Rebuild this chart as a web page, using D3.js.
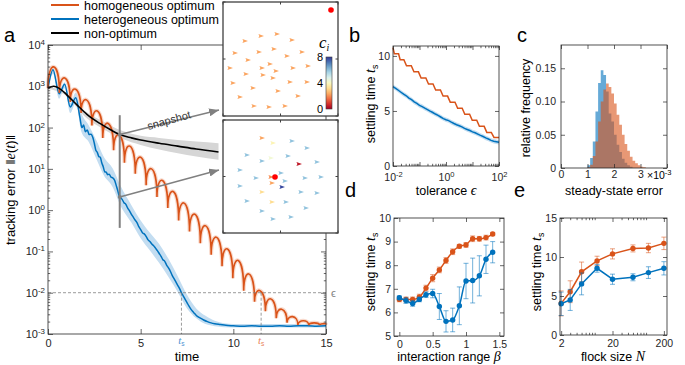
<!DOCTYPE html>
<html>
<head>
<meta charset="utf-8">
<script src="https://cdn.jsdelivr.net/npm/d3@7"></script>
<style>
  body { margin: 0; background: #fff; }
  svg { font-family: "Liberation Sans", Arial, Helvetica, sans-serif; color: #262626; }
</style>
</head>
<body>
<svg id="fig" width="685" height="365"></svg>
<script>
// ---------- DATA ----------

// a: tracking error (log10 values)
// homogeneous optimum: cusps of the oscillation, and tops of the arcs between cusps
const homCuspT = [0, 0.615, 1.2, 1.785, 2.37, 2.955, 3.54, 4.125, 4.71, 5.295, 5.88, 6.465, 7.05, 7.635, 8.22, 8.805, 9.39, 9.975, 10.56, 11.145, 11.73, 12.315, 12.9, 13.485, 14.07, 14.655, 15];
const homCuspV = [2.95, 2.84, 2.62, 2.35, 2.05, 1.75, 1.45, 1.15, 0.88, 0.6, 0.32, 0.05, -0.25, -0.52, -0.8, -1.08, -1.36, -1.65, -1.95, -2.22, -2.45, -2.62, -2.73, -2.78, -2.79, -2.79, -2.77];
const homTopV  = [3.47, 3.2, 2.93, 2.67, 2.4, 2.1, 1.82, 1.55, 1.28, 1.0, 0.72, 0.45, 0.17, -0.1, -0.38, -0.66, -0.94, -1.22, -1.55, -1.95, -2.15, -2.4, -2.58, -2.68, -2.73, -2.75];

// heterogeneous optimum [time, log10 error]
const hetLine = [[0,2.96],[0.27,3.4],[0.6,2.82],[0.9,3.05],[1.2,2.5],[1.5,2.72],[1.72,2.25],[1.83,2.0],[1.92,2.06],[2.02,1.9],[2.12,1.94],[2.22,1.83],[2.32,1.84],[2.42,1.76],[2.5,1.62],[2.58,1.45],[2.66,1.4],[2.74,1.3],[2.82,1.28],[2.9,1.15],[2.98,1.05],[3.06,0.93],[3.14,0.92],[3.22,0.86],[3.3,0.87],[3.4,0.8],[3.5,0.78],[3.6,0.72],[3.68,0.6],[3.76,0.48],[3.84,0.34],[3.92,0.3],[4.0,0.26],[4.1,0.18],[4.2,0.14],[4.3,0.05],[4.4,-0.02],[4.5,-0.1],[4.6,-0.17],[4.7,-0.24],[4.8,-0.3],[4.9,-0.4],[5.0,-0.47],[5.1,-0.55],[5.2,-0.58],[5.3,-0.64],[5.4,-0.72],[5.5,-0.76],[5.6,-0.82],[5.7,-0.86],[5.8,-0.92],[5.9,-0.98],[6.0,-1.05],[6.1,-1.12],[6.2,-1.2],[6.3,-1.24],[6.4,-1.33],[6.5,-1.4],[6.6,-1.48],[6.7,-1.58],[6.8,-1.66],[6.9,-1.74],[7.0,-1.82],[7.1,-1.9],[7.2,-2.0],[7.3,-2.08],[7.4,-2.16],[7.5,-2.24],[7.6,-2.32],[7.7,-2.39],[7.8,-2.45],[7.9,-2.5],[8.0,-2.55],[8.2,-2.61],[8.4,-2.66],[8.6,-2.7],[8.8,-2.73],[9.0,-2.75],[9.3,-2.77],[9.6,-2.79],[10,-2.8],[10.5,-2.81],[11,-2.8],[11.5,-2.81],[12,-2.81],[12.5,-2.8],[13,-2.81],[13.5,-2.8],[14,-2.8],[14.5,-2.81],[15,-2.8]];
// [time, low, high]
const hetBand = [[0,2.92,3.0],[0.27,3.3,3.45],[0.6,2.7,2.9],[0.9,2.95,3.1],[1.2,2.35,2.6],[1.5,2.6,2.85],[1.8,1.9,2.35],[2.2,1.65,2.05],[2.6,1.25,1.7],[3.0,0.85,1.3],[3.5,0.55,1.0],[3.9,0.12,0.6],[4.5,-0.3,0.12],[5.0,-0.68,-0.25],[5.5,-0.98,-0.55],[6.0,-1.28,-0.82],[6.5,-1.62,-1.18],[7.0,-1.98,-1.6],[7.5,-2.38,-2.05],[8.0,-2.62,-2.38],[8.5,-2.76,-2.56],[9.0,-2.81,-2.68],[10,-2.84,-2.76],[15,-2.84,-2.76]];

// non-optimum
const nonLine = [[0,2.96],[0.3,3.0],[0.7,2.92],[1.0,2.8],[1.56,2.55],[2.1,2.32],[2.8,2.1],[3.4,1.94],[3.87,1.83],[4.5,1.75],[5.0,1.7],[6.0,1.62],[7.0,1.55],[8.0,1.48],[9.2,1.41]];
const nonBand = [[0,2.94,2.98],[1.0,2.76,2.84],[2.0,2.26,2.4],[3.0,1.96,2.14],[4.0,1.73,1.92],[5.0,1.58,1.8],[6.0,1.47,1.75],[7.0,1.38,1.7],[8.0,1.3,1.66],[9.2,1.22,1.62]];

const epsilon = 1e-2;
const tsHet = 7.2, tsHom = 11.5, tSnap = 3.87;
const timeTicks = [0, 5, 10, 15];
const errExps = [-3, -2, -1, 0, 1, 2, 3, 4];

// snapshots: agent positions in inset units [x, y, c_i], leader dot
const flockEarly = [[22,39],[38,34],[54,32],[69,38],[12,51],[36,50],[51,47],[79,50],[25,58],[64,54],[7,66],[39,66],[47,62],[70,66],[85,64],[23,72],[40,73],[53,69],[50,76],[10,81],[30,86],[67,80],[84,80],[17,95],[55,89],[75,94],[31,104],[46,105],[62,104]];
const earlyC = 2.3;
const leaderEarly = [108, 8];
const flockLate = [[39,18,2.3],[50,23,3.8],[69,21,6],[84,28,6],[24,35,6],[48,38,4.3],[65,36,6],[76,44,0.4],[94,42,6],[17,50,6],[39,41,6],[58,53,6],[33,58,6],[48,57,2.0],[62,61,6],[82,58,6],[98,57,6],[17,66,6],[49,63,2.3],[59,67,7.8],[39,72,3.2],[78,72,6],[94,73,6],[24,81,6],[49,82,3.2],[63,82,6],[83,88,6],[39,91,6],[68,97,6],[50,99,6]];
const leaderLate = [52, 57];
const cTicks = [0, 4, 8];

// b: settling time vs tolerance [log10 eps, t_s]
const tolHom = [[-2.0,10.75],[-1.95,10.2],[-1.79,10.2],[-1.73,9.65],[-1.59,9.65],[-1.49,9.1],[-1.31,9.1],[-1.21,8.55],[-1.04,8.55],[-0.94,8.0],[-0.76,8.0],[-0.66,7.45],[-0.49,7.45],[-0.39,6.9],[-0.21,6.9],[-0.11,6.35],[0.06,6.35],[0.16,5.8],[0.34,5.8],[0.44,5.25],[0.61,5.25],[0.71,4.7],[0.89,4.7],[0.99,4.15],[1.16,4.15],[1.26,3.6],[1.44,3.6],[1.54,3.05],[1.71,3.05],[1.81,2.6],[2.0,2.6]];
const tolHet = [[-2.0,7.2],[-1.9,7.05],[-1.8,6.88],[-1.7,6.7],[-1.6,6.52],[-1.5,6.38],[-1.4,6.17],[-1.3,6.02],[-1.2,5.82],[-1.1,5.68],[-1.0,5.5],[-0.9,5.4],[-0.8,5.25],[-0.7,5.12],[-0.6,4.98],[-0.5,4.86],[-0.4,4.72],[-0.3,4.6],[-0.2,4.45],[-0.1,4.3],[0,4.2],[0.1,4.12],[0.2,3.98],[0.3,3.86],[0.4,3.75],[0.5,3.66],[0.6,3.55],[0.7,3.42],[0.8,3.32],[0.9,3.22],[1.0,3.1],[1.1,3.02],[1.2,2.9],[1.3,2.78],[1.4,2.68],[1.5,2.55],[1.6,2.45],[1.7,2.33],[1.8,2.25],[1.9,2.2],[2.0,2.15]];
const tolBandHalf = 0.2;

// c: steady-state error histograms (x in 1e-3), bins of width 0.1
const binStart = 1.0, binWidth = 0.1;
const histHet = [0.004, 0.015, 0.04, 0.085, 0.128, 0.147, 0.14, 0.115, 0.082, 0.07, 0.05, 0.035, 0.024, 0.014, 0.008, 0.004, 0.002];
const histHom = [0.001, 0.005, 0.018, 0.04, 0.07, 0.1, 0.118, 0.127, 0.122, 0.112, 0.097, 0.08, 0.065, 0.05, 0.036, 0.026, 0.017, 0.011, 0.007, 0.004, 0.002, 0.001];

// d: settling time vs interaction range
const beta = [0, 0.1, 0.2, 0.3, 0.4, 0.5, 0.6, 0.7, 0.8, 0.9, 1.0, 1.1, 1.2, 1.3, 1.4];
const betaHom = [6.55, 6.55, 6.55, 6.65, 7.03, 7.45, 7.8, 8.2, 8.57, 8.8, 8.86, 9.12, 9.12, 9.17, 9.32];
const betaHomErr = [0.1, 0.1, 0.1, 0.12, 0.12, 0.15, 0.12, 0.12, 0.12, 0.08, 0.1, 0.12, 0.1, 0.1, 0.07];
const betaHet = [6.62, 6.5, 6.38, 6.55, 6.75, 6.8, 6.25, 5.62, 5.68, 6.28, 7.33, 7.35, 7.55, 8.25, 8.55];
const betaHetErr = [0.08, 0.12, 0.12, 0.1, 0.12, 0.18, 0.55, 0.45, 0.5, 0.8, 0.75, 0.95, 0.85, 0.6, 0.45];

// e: settling time vs flock size
const flockN = [2, 3, 5, 10, 20, 50, 100, 200];
const sizeHom = [4.05, 5.55, 8.1, 9.5, 10.4, 11.1, 11.15, 11.75];
const sizeHomErr = [1.6, 1.4, 1.25, 0.6, 0.65, 0.45, 0.6, 0.8];
const sizeHet = [4.0, 4.5, 6.55, 8.55, 7.15, 7.4, 8.0, 8.55];
const sizeHetErr = [1.5, 1.35, 1.4, 0.5, 0.65, 0.45, 0.75, 0.85];

// ---------- SETUP ----------
const svg = d3.select('#fig');
const RED = '#d95319', BLUE = '#0072bd', INK = '#262626', GREY = '#808080';
const FS = 10.5;

const defs = svg.append('defs');
defs.append('marker').attr('id', 'arr').attr('viewBox', '0 0 10 8')
    .attr('refX', 10).attr('refY', 4).attr('markerWidth', 10).attr('markerHeight', 8)
    .attr('markerUnits', 'userSpaceOnUse').attr('orient', 'auto')
  .append('path').attr('d', 'M0,0L10,4L0,8Z').attr('fill', GREY);

// superscript label "10^e"
const sup = (sel, base, exp) => {
  sel.text(base).append('tspan').attr('dy', '-0.5em').attr('font-size', '0.72em').text(exp);
};
const minorLog = (lo, hi) => d3.range(lo, hi).flatMap(e => d3.range(2, 10).map(m => m * Math.pow(10, e)));

// MATLAB-like box axes with inward ticks
function axisBox(g, x, y, o) {
  const [xl, xr] = x.range(), [yb, yt] = y.range();
  const tl = o.tl || 4, fs = o.fs || FS;
  const tidy = s => {
    s.select('.domain').remove();
    s.attr('font-family', null).attr('font-size', fs);
    s.selectAll('line').attr('stroke', INK).attr('stroke-width', 0.7);
  };
  const mk = (axis, tr, vals, size, fmt, pad) => g.append('g').attr('transform', tr)
      .call(axis.tickValues(vals).tickSize(-size).tickPadding(pad).tickFormat(fmt)).call(tidy);
  const none = () => '';
  const bx = mk(d3.axisBottom(x), `translate(0,${yb})`, o.xt, tl, o.xf || (d => d), o.xpad || 4);
  mk(d3.axisTop(x), `translate(0,${yt})`, o.xt, tl, none, 0);
  const ly = mk(d3.axisLeft(y), `translate(${xl},0)`, o.yt, tl, o.yf || (d => d), o.ypad || 3);
  mk(d3.axisRight(y), `translate(${xr},0)`, o.yt, tl, none, 0);
  if (o.xm) {
    mk(d3.axisBottom(x), `translate(0,${yb})`, o.xm, 2.2, none, 0);
    mk(d3.axisTop(x), `translate(0,${yt})`, o.xm, 2.2, none, 0);
  }
  if (o.ym) {
    mk(d3.axisLeft(y), `translate(${xl},0)`, o.ym, 2.2, none, 0);
    mk(d3.axisRight(y), `translate(${xr},0)`, o.ym, 2.2, none, 0);
  }
  g.append('rect').attr('x', xl).attr('y', yt).attr('width', xr - xl).attr('height', yb - yt)
    .attr('fill', 'none').attr('stroke', INK).attr('stroke-width', 0.8);
  return { bx, ly };
}

// "settling time t_s" style label
function tsText(sel, pre) {
  sel.append('tspan').text(pre);
  sel.append('tspan').attr('font-family', '"Liberation Serif", serif').attr('font-style', 'italic')
     .attr('font-size', '1.15em').text('t');
  sel.append('tspan').attr('dy', '0.3em').attr('font-size', '0.7em').text('s');
}
const italic = (sel, s) => sel.append('tspan').attr('font-family', '"Liberation Serif", serif')
     .attr('font-style', 'italic').attr('font-size', '1.12em').text(s);

const panelLetter = (x, y, s) => svg.append('text').attr('x', x).attr('y', y)
     .attr('font-size', 20).attr('fill', '#000').text(s);

// ---------- PANEL A ----------
const xa = d3.scaleLinear().domain([0, 15]).range([48, 326]);
const ya = d3.scaleLog().domain([1e-3, 1e4]).range([334, 45]);
const P = v => ya(Math.pow(10, v));
const ga = svg.append('g');

const band = (data) => d3.area().x(d => xa(d[0])).y0(d => P(d[1])).y1(d => P(d[2]))
                           .curve(d3.curveMonotoneX)(data);
const line = (data) => d3.line().x(d => xa(d[0])).y(d => P(d[1])).curve(d3.curveMonotoneX)(data);

ga.append('path').attr('d', band(nonBand)).attr('fill', '#d6d6d6');
ga.append('path').attr('d', band(hetBand)).attr('fill', '#c3ddf1');

// homogeneous: arcs between cusps
const rp = d3.path();
rp.moveTo(xa(homCuspT[0]), P(homCuspV[0]));
homTopV.forEach((top, i) => {
  const X0 = xa(homCuspT[i]), Y0 = P(homCuspV[i]);
  const X1 = xa(homCuspT[i + 1]), Y1 = P(homCuspV[i + 1]);
  const cy = (8 * P(top) - Y0 - Y1) / 6;
  rp.bezierCurveTo(X0, cy, X1, cy, X1, Y1);
});
ga.append('path').attr('d', rp.toString()).attr('fill', 'none')
  .attr('stroke', '#f3c2ac').attr('stroke-width', 4).attr('opacity', 0.6);
ga.append('path').attr('d', line(hetLine)).attr('fill', 'none').attr('stroke', BLUE).attr('stroke-width', 1.5);
ga.append('path').attr('d', rp.toString()).attr('fill', 'none').attr('stroke', RED).attr('stroke-width', 1.6);
ga.append('path').attr('d', line(nonLine)).attr('fill', 'none').attr('stroke', '#000').attr('stroke-width', 1.6);

// tolerance and settling times
const dash = (x1, y1, x2, y2) => ga.append('line').attr('x1', x1).attr('y1', y1).attr('x2', x2).attr('y2', y2)
   .attr('stroke', GREY).attr('stroke-width', 0.8).attr('stroke-dasharray', '3,2');
dash(xa(0), ya(epsilon), xa(15), ya(epsilon));
dash(xa(tsHet), ya(epsilon), xa(tsHet), ya(1e-3));
dash(xa(tsHom), ya(epsilon), xa(tsHom), ya(1e-3));
ga.append('text').attr('x', xa(15) + 5).attr('y', ya(epsilon) + 4).attr('font-size', 11).attr('fill', GREY).text('ϵ');
[[tsHet, '#4f93d2'], [tsHom, '#e8825a']].forEach(([t, c]) => {
  const tx = ga.append('text').attr('x', xa(t)).attr('y', 344).attr('text-anchor', 'middle')
     .attr('font-size', 9.5).attr('fill', c);
  tsText(tx, '');
});

const axA = axisBox(ga, xa, ya, {
  xt: timeTicks, yt: errExps.map(e => Math.pow(10, e)), yf: () => '',
  ym: minorLog(-3, 4), fs: 11, xpad: 5, ypad: 3, tl: 5
});
axA.ly.selectAll('.tick text').each(function (d) { d3.select(this).call(sup, '10', Math.round(Math.log10(d))); });

ga.append('text').attr('x', (xa(0) + xa(15)) / 2).attr('y', 361).attr('text-anchor', 'middle')
  .attr('font-size', 13).text('time');
const yla = ga.append('text').attr('transform', 'translate(15,190) rotate(-90)')
  .attr('text-anchor', 'middle').attr('font-size', 13);
yla.append('tspan').text('tracking error  ‖');
italic(yla, 'e');
yla.append('tspan').text('(');
italic(yla, 't');
yla.append('tspan').text(')‖');

// snapshot marker and arrows
const xs = xa(tSnap);
ga.append('line').attr('x1', xs).attr('x2', xs).attr('y1', P(2.3)).attr('y2', P(-0.43))
  .attr('stroke', GREY).attr('stroke-width', 2);
const arrows = [[P(1.83), 219, 110], [P(0.32), 219, 170]];
arrows.forEach(([y0, x1, y1]) => {
  ga.append('line').attr('x1', xs).attr('y1', y0).attr('x2', x1).attr('y2', y1)
    .attr('stroke', GREY).attr('stroke-width', 1.5).attr('marker-end', 'url(#arr)');
  ga.append('circle').attr('cx', xs).attr('cy', y0).attr('r', 2).attr('fill', GREY);
});
ga.append('text').attr('transform', 'translate(170,124) rotate(-15.5)').attr('text-anchor', 'middle')
  .attr('font-size', 11).attr('fill', '#333').text('snapshot');

// legend
const legend = [['homogeneous optimum', RED], ['heterogeneous optimum', BLUE], ['non-optimum', '#000']];
legend.forEach(([name, c], i) => {
  const y = 5 + i * 14;
  svg.append('line').attr('x1', 51).attr('x2', 79).attr('y1', y).attr('y2', y).attr('stroke', c).attr('stroke-width', 2);
  svg.append('text').attr('x', 84).attr('y', y + 4.5).attr('font-size', 12.5).text(name);
});
panelLetter(4, 42, 'a');

// insets
const cColor = c => d3.interpolateRdYlBu(c / 8);
const agent = 'M-2.6,-1.9L3,0L-2.6,1.9L-1.6,0Z';
function inset(y0, h, pts, leader) {
  const g = svg.append('g');
  const ix = d3.scaleLinear().domain([0, 115]).range([223, 338]);
  const iy = d3.scaleLinear().domain([0, h]).range([y0, y0 + h]);
  g.append('rect').attr('x', 223).attr('y', y0).attr('width', 115).attr('height', h)
    .attr('fill', '#fff').attr('stroke', '#404040').attr('stroke-width', 1.3);
  [0, 57.5, 115].forEach(t => {
    g.append('line').attr('x1', ix(t)).attr('x2', ix(t)).attr('y1', y0).attr('y2', y0 + 2.5).attr('stroke', '#404040');
    g.append('line').attr('x1', ix(t)).attr('x2', ix(t)).attr('y1', y0 + h).attr('y2', y0 + h - 2.5).attr('stroke', '#404040');
  });
  [0, h / 2, h].forEach(t => {
    g.append('line').attr('x1', 223).attr('x2', 225.5).attr('y1', iy(t)).attr('y2', iy(t)).attr('stroke', '#404040');
    g.append('line').attr('x1', 338).attr('x2', 335.5).attr('y1', iy(t)).attr('y2', iy(t)).attr('stroke', '#404040');
  });
  g.selectAll('path.agent').data(pts).enter().append('path').attr('class', 'agent')
    .attr('d', agent).attr('transform', d => `translate(${ix(d[0])},${iy(d[1])})`)
    .attr('fill', d => cColor(d[2] === undefined ? earlyC : d[2]));
  g.append('circle').attr('cx', ix(leader[0])).attr('cy', iy(leader[1])).attr('r', 2.8).attr('fill', '#ff0000');
  return g;
}
const in1 = inset(2, 114, flockEarly, leaderEarly);
inset(120, 113, flockLate, leaderLate);

// colour bar
const cy = d3.scaleLinear().domain([0, 8]).range([109, 57]);
const grad = defs.append('linearGradient').attr('id', 'cbar').attr('x1', 0).attr('x2', 0).attr('y1', 1).attr('y2', 0);
d3.range(0, 1.0001, 0.1).forEach(t => grad.append('stop').attr('offset', t).attr('stop-color', d3.interpolateRdYlBu(t)));
in1.append('rect').attr('x', 326).attr('y', cy(8)).attr('width', 6).attr('height', cy(0) - cy(8))
  .attr('fill', 'url(#cbar)').attr('stroke', '#404040').attr('stroke-width', 0.6);
cTicks.forEach(c => in1.append('text').attr('x', 323).attr('y', cy(c) + 4).attr('text-anchor', 'end')
  .attr('font-size', 11).text(c));
const cl = in1.append('text').attr('x', 319).attr('y', 48).attr('font-size', 15);
italic(cl, 'c');
cl.append('tspan').attr('dy', '0.3em').attr('font-size', '0.65em').attr('font-family', '"Liberation Serif", serif')
  .attr('font-style', 'italic').text('i');

// ---------- PANEL B ----------
const xb = d3.scaleLog().domain([1e-2, 1e2]).range([393, 499]);
const yb = d3.scaleLinear().domain([0, 10.9]).range([166, 46]);
const gb = svg.append('g');
gb.append('path').attr('fill', '#c3ddf1')
  .attr('d', d3.area().x(d => xb(Math.pow(10, d[0]))).y0(d => yb(d[1] - tolBandHalf)).y1(d => yb(d[1] + tolBandHalf))(tolHet));
const lb = d3.line().x(d => xb(Math.pow(10, d[0]))).y(d => yb(d[1]));
gb.append('path').attr('d', lb(tolHet)).attr('fill', 'none').attr('stroke', BLUE).attr('stroke-width', 1.5);
gb.append('path').attr('d', lb(tolHom)).attr('fill', 'none').attr('stroke', RED).attr('stroke-width', 1.5);
const axB = axisBox(gb, xb, yb, {
  xt: [1e-2, 1e-1, 1, 10, 100], xf: () => '', xm: minorLog(-2, 2), xpad: 7.5,
  yt: [0, 5, 10]
});
axB.bx.selectAll('.tick text').each(function (d) {
  const e = Math.round(Math.log10(d));
  if (e % 2 === 0) d3.select(this).call(sup, '10', e);
});
const ylb = gb.append('text').attr('transform', 'translate(375,104) rotate(-90)').attr('text-anchor', 'middle').attr('font-size', 12.5);
tsText(ylb, 'settling time  ');
const xlb = gb.append('text').attr('x', 446).attr('y', 195).attr('text-anchor', 'middle').attr('font-size', 12.5);
xlb.append('tspan').text('tolerance ');
italic(xlb, 'ϵ');
panelLetter(349, 42, 'b');

// ---------- PANEL C ----------
const xc = d3.scaleLinear().domain([0, 4]).range([561, 667]);
const yc = d3.scaleLinear().domain([0, 0.185]).range([168, 45]);
const gc = svg.append('g');
const histPts = h => {
  const pts = h.map((v, i) => [binStart + i * binWidth, v]);
  pts.push([binStart + h.length * binWidth, h[h.length - 1]]);
  return pts;
};
const hArea = d3.area().x(d => xc(d[0])).y0(yc(0)).y1(d => yc(d[1])).curve(d3.curveStepAfter);
gc.append('path').attr('d', hArea(histPts(histHet))).attr('fill', BLUE).attr('fill-opacity', 0.6);
gc.append('path').attr('d', hArea(histPts(histHom))).attr('fill', RED).attr('fill-opacity', 0.6);
axisBox(gc, xc, yc, {
  xt: [0, 1, 2, 3, 4], xf: d => d === 4 ? '' : d, xpad: 3,
  yt: [0, 0.05, 0.1, 0.15], yf: d => d === 0 ? '0' : d3.format('.2f')(d), ypad: 5
});
gc.append('text').attr('x', 647).attr('y', 179).attr('font-size', FS).call(sup, '×10', '-3');
gc.append('text').attr('transform', 'translate(530,108) rotate(-90)').attr('text-anchor', 'middle')
  .attr('font-size', 12.5).text('relative frequency');
gc.append('text').attr('x', 614).attr('y', 195).attr('text-anchor', 'middle').attr('font-size', 12.5).text('steady-state error');
panelLetter(517, 42, 'c');

// ---------- error-bar series helper ----------
function series(g, x, y, xs, ys, es, color, curve) {
  const pts = xs.map((v, i) => [x(v), y(ys[i]), y(ys[i] - es[i]), y(ys[i] + es[i])]);
  const eb = g.append('g').attr('stroke', color).attr('stroke-opacity', 0.55).attr('stroke-width', 1);
  pts.forEach(([px, py, lo, hi]) => {
    eb.append('line').attr('x1', px).attr('x2', px).attr('y1', lo).attr('y2', hi);
    eb.append('line').attr('x1', px - 2.5).attr('x2', px + 2.5).attr('y1', lo).attr('y2', lo);
    eb.append('line').attr('x1', px - 2.5).attr('x2', px + 2.5).attr('y1', hi).attr('y2', hi);
  });
  g.append('path').attr('d', d3.line().x(d => d[0]).y(d => d[1]).curve(curve)(pts))
    .attr('fill', 'none').attr('stroke', color).attr('stroke-width', 1.5);
  g.selectAll(null).data(pts).enter().append('circle')
    .attr('cx', d => d[0]).attr('cy', d => d[1]).attr('r', 2.7).attr('fill', color);
}

// ---------- PANEL D ----------
const xd = d3.scaleLinear().domain([-0.08, 1.57]).range([394, 504]);
const yd = d3.scaleLinear().domain([5, 10]).range([336, 218]);
const gd = svg.append('g');
series(gd, xd, yd, beta, betaHom, betaHomErr, RED, d3.curveMonotoneX);
series(gd, xd, yd, beta, betaHet, betaHetErr, BLUE, d3.curveMonotoneX);
axisBox(gd, xd, yd, { xt: [0, 0.5, 1, 1.5], xpad: 4.5, yt: [5, 6, 7, 8, 9, 10] });
const yld = gd.append('text').attr('transform', 'translate(375,272) rotate(-90)').attr('text-anchor', 'middle').attr('font-size', 12.5);
tsText(yld, 'settling time  ');
const xld = gd.append('text').attr('x', 449).attr('y', 361).attr('text-anchor', 'middle').attr('font-size', 12.5);
xld.append('tspan').text('interaction range ');
italic(xld, 'β');
panelLetter(345, 197, 'd');

// ---------- PANEL E ----------
const xe = d3.scaleLog().domain([1.9, 230]).range([560, 667]);
const ye = d3.scaleLinear().domain([0, 15]).range([335, 218]);
const ge = svg.append('g');
series(ge, xe, ye, flockN, sizeHom, sizeHomErr, RED, d3.curveLinear);
series(ge, xe, ye, flockN, sizeHet, sizeHetErr, BLUE, d3.curveLinear);
axisBox(ge, xe, ye, {
  xt: [2, 20, 200], xm: [3, 4, 5, 6, 7, 8, 9, 30, 40, 50, 60, 70, 80, 90], xpad: 4.5,
  yt: [0, 5, 10, 15]
});
const yle = ge.append('text').attr('transform', 'translate(541,272) rotate(-90)').attr('text-anchor', 'middle').attr('font-size', 12.5);
tsText(yle, 'settling time  ');
const xle = ge.append('text').attr('x', 613).attr('y', 361).attr('text-anchor', 'middle').attr('font-size', 12.5);
xle.append('tspan').text('flock size ');
italic(xle, 'N');
panelLetter(514, 197, 'e');
</script>
</body>
</html>
